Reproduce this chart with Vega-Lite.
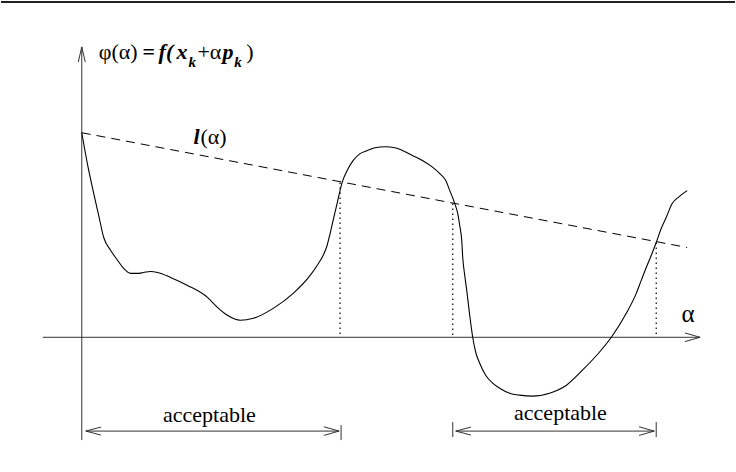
{
  "$schema": "https://vega.github.io/schema/vega-lite/v6.json",
  "width": 736,
  "height": 472,
  "autosize": {"type": "fit", "contains": "padding"},
  "padding": 0,
  "background": "white",
  "config": {"view": {"stroke": null}},
  "datasets": {
    "curve": [
      {"a":0,"phi":205},{"a":6,"phi":172},{"a":12,"phi":144},{"a":17,"phi":122},{"a":22,"phi":100},
      {"a":29,"phi":87},{"a":36,"phi":77},{"a":42,"phi":69},{"a":49,"phi":64},{"a":56,"phi":64},
      {"a":62,"phi":65},{"a":69,"phi":66},{"a":76,"phi":65},{"a":89,"phi":60},{"a":106,"phi":52},
      {"a":126,"phi":40},{"a":136,"phi":30},{"a":146,"phi":22},{"a":159,"phi":17},{"a":172,"phi":19},
      {"a":192,"phi":29},{"a":212,"phi":44},{"a":229,"phi":62},{"a":236,"phi":72},{"a":242,"phi":82},
      {"a":246,"phi":92},{"a":249,"phi":104},{"a":252,"phi":117},{"a":256,"phi":134},{"a":261,"phi":155},
      {"a":266,"phi":167},{"a":272,"phi":177},{"a":279,"phi":184},{"a":286,"phi":187},{"a":294,"phi":190},
      {"a":304,"phi":191},{"a":314,"phi":190},{"a":322,"phi":187},{"a":332,"phi":182},{"a":342,"phi":177},
      {"a":351,"phi":171},{"a":359,"phi":164},{"a":365,"phi":157},{"a":369,"phi":147},{"a":374,"phi":134},
      {"a":377,"phi":124},{"a":379,"phi":112},{"a":381,"phi":97},{"a":382,"phi":80},{"a":384,"phi":62},
      {"a":386,"phi":47},{"a":389,"phi":22},{"a":392,"phi":0},{"a":395,"phi":-15},{"a":399,"phi":-26},
      {"a":405,"phi":-38},{"a":412,"phi":-46},{"a":419,"phi":-51},{"a":429,"phi":-56},{"a":439,"phi":-58},
      {"a":452,"phi":-59},{"a":469,"phi":-56},{"a":486,"phi":-48},{"a":502,"phi":-33},{"a":519,"phi":-15},
      {"a":531,"phi":0},{"a":546,"phi":24},{"a":556,"phi":44},{"a":561,"phi":57},{"a":566,"phi":70},
      {"a":571,"phi":82},{"a":576,"phi":95},{"a":581,"phi":109},{"a":586,"phi":120},{"a":592,"phi":134},
      {"a":599,"phi":141},{"a":607,"phi":147}
    ],
    "lalpha": [{"a":0,"phi":205},{"a":607,"phi":90}],
    "solid": [
      {"a":-39,"phi":0,"a2":620,"phi2":0},
      {"a":0,"phi":-103,"a2":0,"phi2":291},
      {"a":4,"phi":-94,"a2":258,"phi2":-94},
      {"a":260,"phi":-88,"a2":260,"phi2":-103},
      {"a":375,"phi":-94,"a2":574,"phi2":-94},
      {"a":372,"phi":-85,"a2":372,"phi2":-100},
      {"a":576,"phi":-85,"a2":576,"phi2":-100}
    ],
    "border": [{"a":-81,"phi":336,"a2":655,"phi2":336}],
    "dotted": [
      {"a":259,"phi":155,"a2":259,"phi2":0},
      {"a":372,"phi":134,"a2":372,"phi2":0},
      {"a":576,"phi":95,"a2":576,"phi2":0}
    ],
    "heads": [
      {"a":0,"phi":291,"dir":"up"},
      {"a":620,"phi":0,"dir":"right"},
      {"a":4,"phi":-94,"dir":"left"},
      {"a":258,"phi":-94,"dir":"right"},
      {"a":375,"phi":-94,"dir":"left"},
      {"a":574,"phi":-94,"dir":"right"}
    ],
    "txtRegular": [
      {"a":17,"phi":279,"t":"φ(α)"},
      {"a":116,"phi":279,"t":"+α"},
      {"a":165,"phi":279,"t":")"},
      {"a":119,"phi":194,"t":"(α)"}
    ],
    "txtBold": [{"a":61,"phi":279,"t":"="}],
    "txtBoldItalic": [
      {"a":77,"phi":279,"t":"f("},
      {"a":95,"phi":279,"t":"x"},
      {"a":141,"phi":279,"t":"p"},
      {"a":112,"phi":194,"t":"l"}
    ],
    "txtSub": [
      {"a":107,"phi":271,"t":"k"},
      {"a":153,"phi":271,"t":"k"}
    ],
    "txtCenter": [
      {"a":128,"phi":-85,"t":"acceptable"},
      {"a":480,"phi":-83,"t":"acceptable"}
    ],
    "txtAlpha": [
      {"a":608,"phi":15,"t":"α"}
    ]
  },
  "encoding": {
    "x": {"field": "a", "type": "quantitative", "scale": {"domain": [-81, 655], "nice": false, "zero": false}, "axis": null},
    "y": {"field": "phi", "type": "quantitative", "scale": {"domain": [-135, 337], "nice": false, "zero": false}, "axis": null}
  },
  "layer": [
    {
      "data": {"name": "border"},
      "mark": {"type": "rule", "color": "#222", "strokeWidth": 2},
      "encoding": {"x2": {"field": "a2"}, "y2": {"field": "phi2"}}
    },
    {
      "data": {"name": "solid"},
      "mark": {"type": "rule", "color": "#333", "strokeWidth": 1},
      "encoding": {"x2": {"field": "a2"}, "y2": {"field": "phi2"}}
    },
    {
      "data": {"name": "dotted"},
      "mark": {"type": "rule", "color": "#000", "strokeWidth": 1.2, "strokeDash": [1.5, 3.5]},
      "encoding": {"x2": {"field": "a2"}, "y2": {"field": "phi2"}}
    },
    {
      "data": {"name": "lalpha"},
      "mark": {"type": "line", "color": "#000", "strokeWidth": 1, "strokeDash": [9, 6]},
      "encoding": {}
    },
    {
      "data": {"name": "curve"},
      "mark": {"type": "line", "color": "#000", "strokeWidth": 1.1, "interpolate": "monotone"},
      "encoding": {}
    },
    {
      "data": {"name": "heads"},
      "mark": {"type": "point", "filled": false, "opacity": 1, "color": "#333", "strokeWidth": 1, "size": 1024},
      "encoding": {
        "shape": {
          "field": "dir", "type": "nominal", "legend": null,
          "scale": {
            "domain": ["up", "right", "left"],
            "range": ["M-0.22,0.95L0,0L0.22,0.95", "M-0.95,-0.27L0,0L-0.95,0.27", "M0.95,-0.25L0,0L0.95,0.25"]
          }
        }
      }
    },
    {
      "data": {"name": "txtRegular"},
      "mark": {"type": "text", "font": "Liberation Serif", "fontSize": 22, "align": "left", "baseline": "alphabetic", "color": "#000"},
      "encoding": {"text": {"field": "t"}}
    },
    {
      "data": {"name": "txtBold"},
      "mark": {"type": "text", "font": "Liberation Serif", "fontSize": 22, "fontWeight": "bold", "align": "left", "baseline": "alphabetic", "color": "#000"},
      "encoding": {"text": {"field": "t"}}
    },
    {
      "data": {"name": "txtBoldItalic"},
      "mark": {"type": "text", "font": "Liberation Serif", "fontSize": 22, "fontWeight": "bold", "fontStyle": "italic", "align": "left", "baseline": "alphabetic", "color": "#000"},
      "encoding": {"text": {"field": "t"}}
    },
    {
      "data": {"name": "txtSub"},
      "mark": {"type": "text", "font": "Liberation Serif", "fontSize": 15, "fontWeight": "bold", "fontStyle": "italic", "align": "left", "baseline": "alphabetic", "color": "#000"},
      "encoding": {"text": {"field": "t"}}
    },
    {
      "data": {"name": "txtCenter"},
      "mark": {"type": "text", "font": "Liberation Serif", "fontSize": 22, "align": "center", "baseline": "alphabetic", "color": "#000"},
      "encoding": {"text": {"field": "t"}}
    },
    {
      "data": {"name": "txtAlpha"},
      "mark": {"type": "text", "font": "Liberation Serif", "fontSize": 25, "align": "center", "baseline": "alphabetic", "color": "#000"},
      "encoding": {"text": {"field": "t"}}
    }
  ]
}
